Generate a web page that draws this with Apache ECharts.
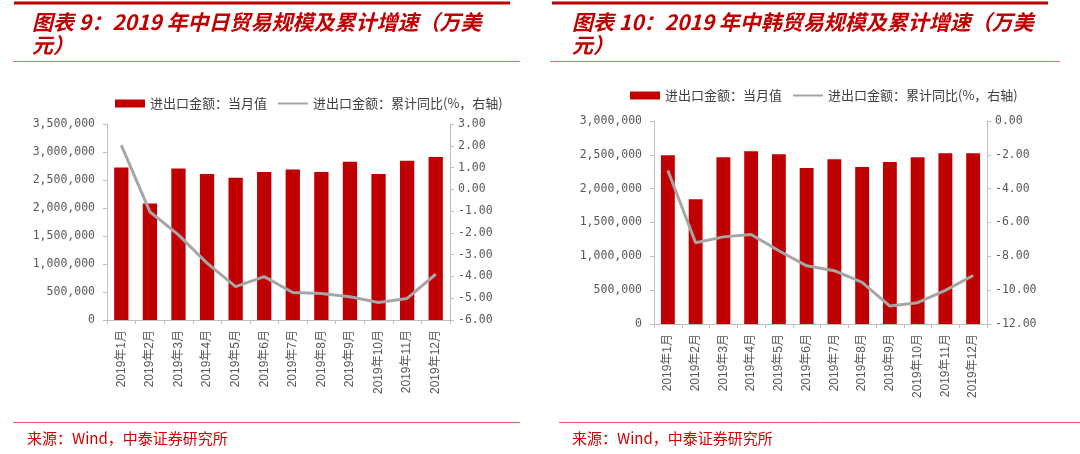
<!DOCTYPE html>
<html>
<head>
<meta charset="utf-8">
<script src="https://cdn.jsdelivr.net/npm/echarts@6/dist/echarts.min.js"></script>
<style>
	html, body { margin: 0; padding: 0; background: #fff; }
	#wrap { width: 1080px; height: 454px; position: relative; }
	.box { position: absolute; top: 0; width: 540px; height: 454px; }
</style>
</head>
<body>
<div id="wrap">
	<div id="jpChart" class="box" style="left:0"></div>
	<div id="krChart" class="box" style="left:540px"></div>
</div>
<script>
/* 数据部分 */
const months = ["2019年1月", "2019年2月", "2019年3月", "2019年4月", "2019年5月", "2019年6月",
	"2019年7月", "2019年8月", "2019年9月", "2019年10月", "2019年11月", "2019年12月"];
// 中日：进出口金额当月值（万美元）与累计同比（%）
const jpValues = [2725000, 2081000, 2707000, 2606000, 2540000, 2641000, 2689000, 2641000, 2826000, 2606000, 2844000, 2910000];
const jpGrowth = [2.03, -1.03, -2.09, -3.39, -4.47, -4.01, -4.74, -4.78, -4.93, -5.20, -5.01, -3.90];
// 中韩
const krValues = [2493000, 1844000, 2464000, 2552000, 2508000, 2307000, 2434000, 2321000, 2395000, 2464000, 2523000, 2523000];
const krGrowth = [-2.93, -7.20, -6.85, -6.71, -7.67, -8.56, -8.85, -9.54, -10.94, -10.74, -10.01, -9.13];

const barName = "进出口金额：当月值";
const lineName = "进出口金额：累计同比(%，右轴)";

const RED = "#c00000";
const GREY = "#a6a6a6";
const AXIS = "#bfbfbf";
const LABEL = "#595959";
const CJK = "'Noto Sans CJK SC', sans-serif";
const MONO = "'DejaVu Sans Mono', monospace";

/* 统一调用 */
buildChart("jpChart", {
	title: "图表 9：2019 年中日贸易规模及累计增速（万美\n元）",
	values: jpValues, growth: jpGrowth,
	leftMax: 3500000, rightMin: -6, rightMax: 3, rightInterval: 1,
	grid: { left: 107, right: 90, top: 124, bottom: 134 },
	legendLeft: 110, legendTop: 92,
	topLine: [14, 510], midLine: [13, 520], srcLine: [13, 520], srcLeft: 27
});
buildChart("krChart", {
	title: "图表 10：2019 年中韩贸易规模及累计增速（万美\n元）",
	values: krValues, growth: krGrowth,
	leftMax: 3000000, rightMin: -12, rightMax: 0, rightInterval: 2,
	grid: { left: 114, right: 93, top: 121, bottom: 130 },
	legendLeft: 85, legendTop: 84,
	topLine: [12, 508], midLine: [10, 520], srcLine: [19, 540], srcLeft: 32
});

/**
 * 功能：绘制贸易规模及累计增速图表
 * 参数：容器 id，配置
 **/
function buildChart(id, cfg) {
	let chart = echarts.init(document.getElementById(id));
	chart.setOption({
		backgroundColor: "#fff",
		animation: false,
		title: {
			text: cfg.title,
			left: 27, top: 6,
			textStyle: {
				color: RED, fontSize: 21, fontWeight: "bold", fontStyle: "italic",
				fontFamily: CJK, lineHeight: 23
			}
		},
		graphic: [
			{ type: "line", shape: { x1: cfg.topLine[0], y1: 3, x2: cfg.topLine[1], y2: 3 }, style: { stroke: RED, lineWidth: 3 } },
			{ type: "line", shape: { x1: cfg.midLine[0], y1: 61.5, x2: cfg.midLine[1], y2: 61.5 }, style: { stroke: "#e07070", lineWidth: 1 } },
			{ type: "line", shape: { x1: cfg.srcLine[0], y1: 422.5, x2: cfg.srcLine[1], y2: 422.5 }, style: { stroke: "#e06060", lineWidth: 1 } },
			{
				type: "text", left: cfg.srcLeft, top: 431,
				style: { text: "来源：Wind，中泰证券研究所", fill: "#d00000", font: "15px " + CJK }
			}
		],
		legend: {
			left: cfg.legendLeft, top: cfg.legendTop,
			itemWidth: 30, itemHeight: 8, itemGap: 10,
			textStyle: { color: "#404040", fontSize: 13, fontFamily: CJK },
			data: [
				{ name: barName, icon: "rect" },
				{ name: lineName, itemStyle: { opacity: 0 } }
			]
		},
		grid: cfg.grid,
		xAxis: {
			type: "category",
			data: months,
			axisLine: { lineStyle: { color: AXIS } },
			axisTick: { show: true, length: 4, lineStyle: { color: AXIS } },
			axisLabel: { rotate: 90, margin: 10, color: LABEL, fontSize: 12, fontFamily: "'Liberation Sans', Arial, " + CJK }
		},
		yAxis: [
			{
				type: "value", min: 0, max: cfg.leftMax, interval: 500000,
				axisLine: { show: true, lineStyle: { color: AXIS } },
				axisTick: { show: true, length: 4, lineStyle: { color: AXIS } },
				splitLine: { show: false },
				axisLabel: {
					margin: 12, color: LABEL, fontSize: 11.5, fontFamily: MONO,
					formatter: v => v.toLocaleString("en-US")
				}
			},
			{
				type: "value", min: cfg.rightMin, max: cfg.rightMax, interval: cfg.rightInterval,
				axisLine: { show: true, lineStyle: { color: AXIS } },
				axisTick: { show: true, length: 4, lineStyle: { color: AXIS } },
				splitLine: { show: false },
				axisLabel: {
					margin: 8, color: LABEL, fontSize: 11.5, fontFamily: MONO,
					formatter: v => v.toFixed(2)
				}
			}
		],
		series: [
			{
				name: barName, type: "bar", yAxisIndex: 0,
				barWidth: "50%", data: cfg.values,
				itemStyle: { color: RED }
			},
			{
				name: lineName, type: "line", yAxisIndex: 1,
				symbol: "none", data: cfg.growth,
				lineStyle: { color: GREY, width: 3 },
				itemStyle: { color: GREY }
			}
		]
	});
}
</script>
</body>
</html>
